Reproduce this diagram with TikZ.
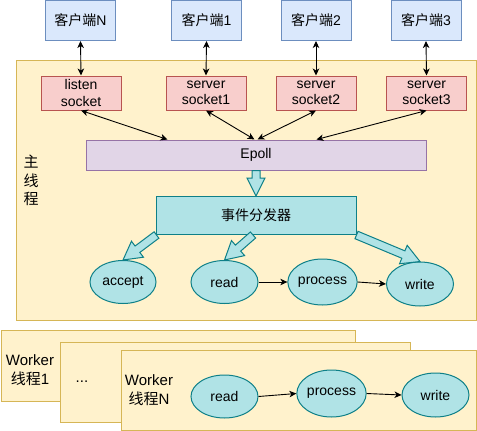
\documentclass[tikz,border=0pt]{standalone}
\usepackage{fontspec}
\setmainfont{Liberation Sans}
\newfontfamily\cjk{Noto Sans CJK SC}
\usetikzlibrary{arrows.meta,calc,shapes.geometric}
\definecolor{blueF}{HTML}{DAE8FC}\definecolor{blueD}{HTML}{6C8EBF}
\definecolor{yelF}{HTML}{FFF2CC}\definecolor{yelD}{HTML}{D6B656}
\definecolor{redF}{HTML}{F8CECC}\definecolor{redD}{HTML}{B85450}
\definecolor{purF}{HTML}{E1D5E7}\definecolor{purD}{HTML}{9673A6}
\definecolor{tealF}{HTML}{B0E3E6}\definecolor{tealD}{HTML}{0E8088}
\def\bp#1#2{({\x1+(#1)*cos(\n1)*1pt-(#2)*sin(\n1)*1pt},{\y1+(#1)*sin(\n1)*1pt+(#2)*cos(\n1)*1pt})}
\newcommand\blockarrow[5]{%
  \path[barrow] let \p1=(#1), \p2=(#2),
    \n1={atan2(\y2-\y1,\x2-\x1)}, \n2={veclen(\x2-\x1,\y2-\y1)} in
    \bp{0}{-#3} -- \bp{\n2-#5}{-#3} -- \bp{\n2-#5}{-#4} -- \bp{\n2}{0}
    -- \bp{\n2-#5}{#4} -- \bp{\n2-#5}{#3} -- \bp{0}{#3} -- cycle;}
\begin{document}
\begin{tikzpicture}[x=1pt,y=-1pt,
  fs/.style={font=\fontsize{14}{16.5}\selectfont},
  fl/.style={font=\fontsize{15}{19}\selectfont},
  client/.style={draw=blueD, fill=blueF, line width=1pt, minimum width=70pt, minimum height=40pt, inner sep=0pt, fs},
  sock/.style={draw=redD, fill=redF, line width=1pt, minimum width=80pt, minimum height=34pt, inner sep=0pt, align=center, fs},
  panel/.style={draw=yelD, fill=yelF, line width=1pt, anchor=north west, inner sep=0pt},
  ell/.style={ellipse, draw=tealD, fill=tealF, line width=1pt, minimum width=67pt, minimum height=44pt, inner sep=0pt, fs},
  >={Stealth[length=7pt,width=6.5pt,inset=2pt]},
  link/.style={line width=0.9pt, ->},
  dlink/.style={line width=0.9pt, <->},
  barrow/.style={draw=tealD, fill=tealF, line width=1pt, line join=miter}]
\useasboundingbox (0,0) rectangle (477,431);

% clients
\node[client] (cN) at (80.5,20.5) {{\cjk 客户端}N};
\node[client] (c1) at (206.5,20.5) {{\cjk 客户端}1};
\node[client] (c2) at (316,20.5) {{\cjk 客户端}2};
\node[client] (c3) at (426,20.5) {{\cjk 客户端}3};

% main thread panel
\node[panel, minimum width=460pt, minimum height=260pt] (main) at (16,60) {};
\node[align=center, font=\cjk\fontsize{15}{18.5}\selectfont] (mt) at (31,180.5) {主\\线\\程};

% sockets
\node[sock] (sL) at (81,93) {listen\\socket};
\node[sock] (s1) at (206,93) {server\\socket1};
\node[sock] (s2) at (316,93) {server\\socket2};
\node[sock] (s3) at (426.5,93) {server\\socket3};

% epoll
\node[draw=purD, fill=purF, line width=1pt, minimum width=340pt, minimum height=30pt, inner sep=0pt, fs] (ep) at (256,155) {Epoll};

% dispatcher
\node[draw=tealD, fill=tealF, line width=1pt, minimum width=200pt, minimum height=38pt, inner sep=0pt, fs] (disp) at (256,215.5) {\cjk 事件分发器};

% main ellipses
\node[ell, minimum width=66pt, minimum height=43pt] (acc) at (123,282) {accept};
\node[ell, minimum height=43pt] (rd) at (224.5,282) {read};
\node[ell, minimum height=46pt] (pr) at (322.5,282) {process};
\node[ell] (wr) at (420,284) {write};

% client <-> socket
\draw[dlink] (cN.south) -- (sL.north);
\draw[dlink] (c1.south) -- (s1.north);
\draw[dlink] (c2.south) -- (s2.north);
\draw[dlink] (c3.south) -- (s3.north);

% socket <-> epoll
\coordinate (eL) at ($(ep.north west)+(82,0)$);
\coordinate (e1) at ($(ep.north west)+(169,0)$);
\coordinate (e2) at ($(ep.north west)+(172,0)$);
\coordinate (e3) at ($(ep.north west)+(231,0)$);
\draw[dlink] (sL.south) -- (eL);
\draw[dlink] (s1.south) -- (e1);
\draw[dlink] (s2.south) -- (e2);
\draw[dlink] (s3.south) -- (e3);

% block arrows
\coordinate (aE) at (ep.south);
\coordinate (aD) at (disp.north);
\coordinate (dA) at ($(disp.south west)+(1,0)$);
\coordinate (dR) at ($(disp.south)+(-3,0)$);
\coordinate (dW) at (disp.south east);
\coordinate (tA) at (acc.north);
\coordinate (tR) at (rd.north);
\coordinate (tW) at (wr.north);
\blockarrow{aE}{aD}{4}{9}{18}
\blockarrow{dA}{tA}{4}{10}{18}
\blockarrow{dR}{tR}{4}{10}{18}
\blockarrow{dW}{tW}{4}{10}{18}

\draw[link] (rd.east) -- (pr.west);
\draw[link] (pr.east) -- (wr.west);

% worker threads
\node[panel, minimum width=354pt, minimum height=71pt] (w1) at (1,330) {};
\node[panel, minimum width=350pt, minimum height=80pt] (w2) at (60,342) {};
\node[panel, minimum width=355pt, minimum height=80pt] (w3) at (121,350) {};
\node[fl, align=center] (w1t) at (30,370) {Worker\\{\cjk 线程}1};
\node[fl] (dots) at (82,382) {...};
\node[fl, align=center] (w3t) at (149,390) {Worker\\{\cjk 线程}N};

\node[ell, minimum height=43pt] (wrd) at (224.5,396.5) {read};
\node[ell, minimum height=47pt] (wpr) at (331.5,393.5) {process};
\node[ell] (wwr) at (435.5,395) {write};
\draw[link] (wrd.east) -- (wpr.west);
\draw[link] (wpr.east) -- (wwr.west);
\end{tikzpicture}
\end{document}
